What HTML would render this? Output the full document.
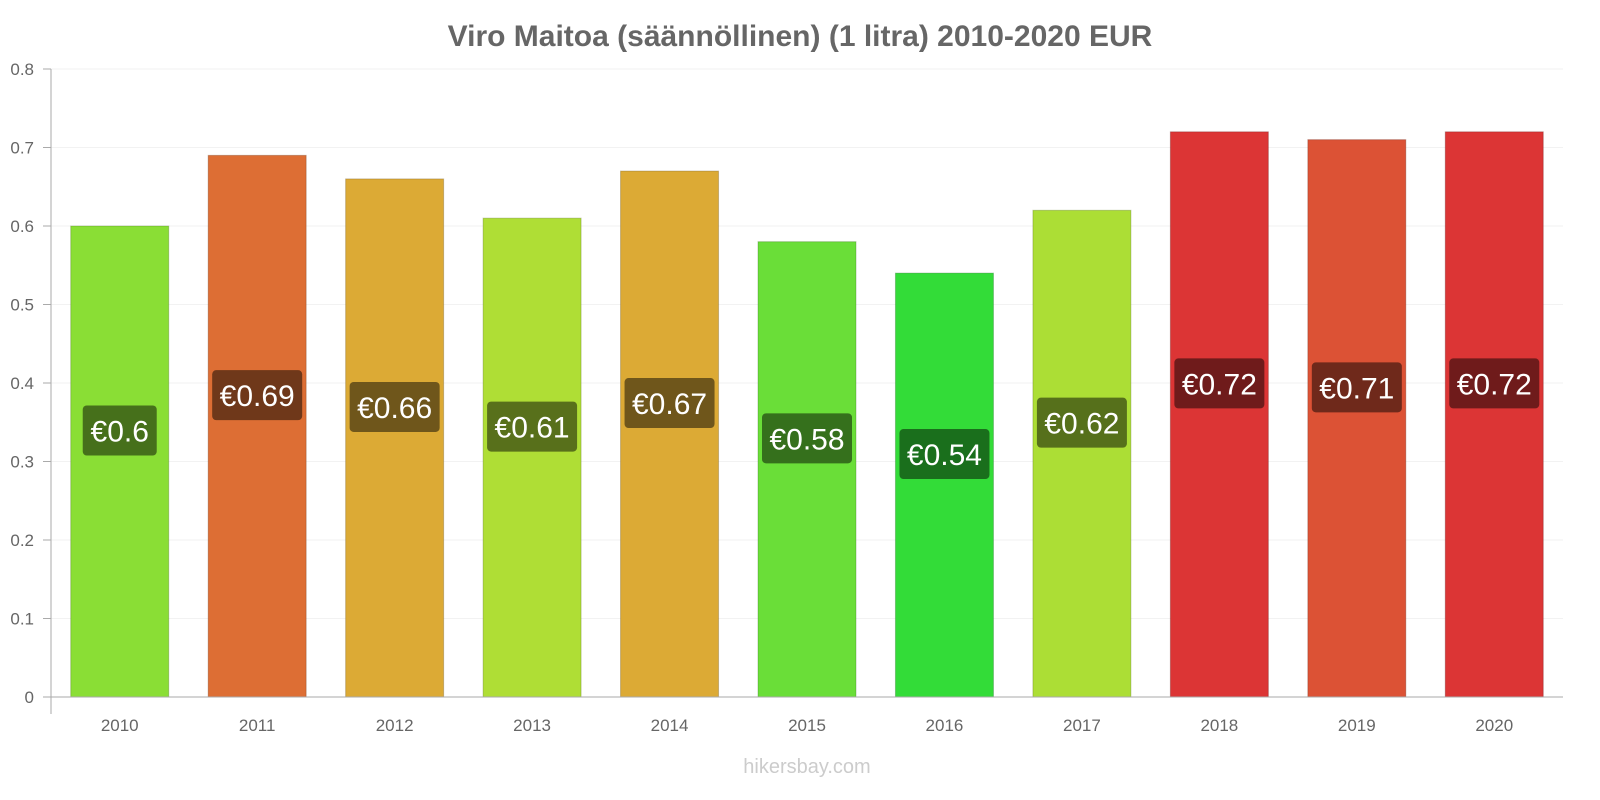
<!DOCTYPE html>
<html><head><meta charset="utf-8">
<style>
body{margin:0;background:#fff;}
svg{display:block;font-family:"Liberation Sans",sans-serif;}
</style></head>
<body>
<svg id="chart" width="1600" height="800" viewBox="0 0 1600 800">
<text x="800" y="46" text-anchor="middle" font-size="30" font-weight="bold" fill="#666">Viro Maitoa (säännöllinen) (1 litra) 2010-2020 EUR</text>
<g id="grid"></g>
<g id="bars"></g>
<g id="axes"></g>
<text x="807" y="773" text-anchor="middle" font-size="20" fill="#ccc">hikersbay.com</text>
</svg>
<script>
const categories=["2010","2011","2012","2013","2014","2015","2016","2017","2018","2019","2020"];
const values=[0.6,0.69,0.66,0.61,0.67,0.58,0.54,0.62,0.72,0.71,0.72];
const valueLabels=["€0.6","€0.69","€0.66","€0.61","€0.67","€0.58","€0.54","€0.62","€0.72","€0.71","€0.72"];
const colors=["#8ade35","#dd6e34","#dcaa35","#afde35","#dcaa35","#6ade38","#33dc38","#acde35","#dc3535","#dc5235","#dc3535"];
const yTicks=[0,0.1,0.2,0.3,0.4,0.5,0.6,0.7,0.8];
const NS="http://www.w3.org/2000/svg";
const x0=51,x1=1563,yBase=697,yTop=69,yMax=0.8;
const y=v=>yBase-(v/yMax)*(yBase-yTop);
const step=(x1-x0)/categories.length;
const xc=i=>x0+step*(i+0.5);
const bw=98;
function mk(tag,attrs,parent){const e=document.createElementNS(NS,tag);for(const k in attrs)e.setAttribute(k,attrs[k]);parent.appendChild(e);return e;}
function dark(h){const n=parseInt(h.slice(1),16);const f=0.45;const r=Math.round((n>>16&255)*f),g=Math.round((n>>8&255)*f),b=Math.round((n&255)*f);return `rgb(${r},${g},${b})`;}
const grid=document.getElementById('grid'),bars=document.getElementById('bars'),axes=document.getElementById('axes');
yTicks.forEach(t=>{
  if(t>0){const l=mk('line',{x1:x0,x2:x1,y1:y(t),y2:y(t),stroke:'#f2f2f2','stroke-width':1},grid);
  }
  const tx=mk('text',{x:34,y:y(t)+6,'text-anchor':'end','font-size':17,fill:'#666'},axes);tx.textContent=String(t);
  
  const tk=mk('line',{x1:43,x2:x0,y1:y(t),y2:y(t),stroke:'#aaa'},axes);
  
});
categories.forEach((c,i)=>{
  const v=values[i],cx=xc(i);
  const r=mk('rect',{x:cx-bw/2,y:y(v),width:bw,height:yBase-y(v),fill:colors[i],stroke:dark(colors[i]),'stroke-opacity':0.3},bars);
  
  const lbl=valueLabels[i];const w=lbl.length*16+10;const cy=y(v/2)-31;
  const b=mk('rect',{x:cx-w/2,y:cy-25,width:w,height:50,rx:4,fill:dark(colors[i]),'fill-opacity':0.9},bars);
  
  const t=mk('text',{x:cx,y:cy+11,'text-anchor':'middle','font-size':30,fill:'#fff'},bars);t.textContent=lbl;
  
  const xt=mk('text',{x:cx,y:731,'text-anchor':'middle','font-size':17,fill:'#666'},axes);xt.textContent=c;
  
});
const ya=mk('line',{x1:x0,x2:x0,y1:yTop,y2:714,stroke:'#aaa'},axes);

const xa=mk('line',{x1:x0,x2:x1,y1:yBase,y2:yBase,stroke:'#aaa'},axes);

</script>
</body></html>
